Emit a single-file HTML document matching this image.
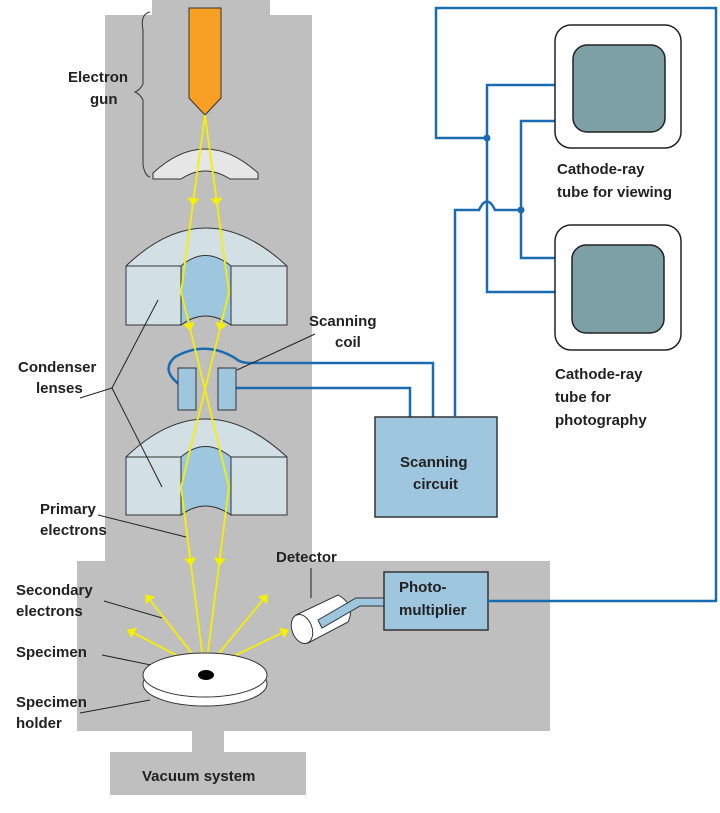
<!DOCTYPE html>
<html><head><style>
body{margin:0;background:#fff;width:720px;height:808px;overflow:hidden}
svg text{font-family:"Liberation Sans",sans-serif;font-size:15px;font-weight:bold;fill:#222}
</style></head><body>
<svg width="720" height="808" viewBox="0 0 720 808">
<defs>
<marker id="a" markerWidth="8" markerHeight="12" refX="7" refY="6" orient="auto" markerUnits="userSpaceOnUse"><path d="M0,0 L8,6 L0,12 z" fill="#f5f000"/></marker>
</defs>
<path d="M152,0 H270 V15 H312 V561 H550 V731 H224 V752 H306 V795 H110 V752 H192 V731 H77 V561 H105 V15 H152 Z" fill="#bfbfbf"/>
<text x="142" y="781">Vacuum system</text>
<path d="M189,8 H221 V98 L205,115 L189,98 Z" fill="#f7a023" stroke="#333" stroke-width="1"/>
<path d="M153,173 Q205,125 258,173 V179 H230 Q205,163 181,179 H153 Z" fill="#e6e6e6" stroke="#333"/>
<path d="M150,12 Q140,14 143,30 V84 Q140,90 135,92 Q140,94 143,100 V165 Q145,176 150,177" fill="none" stroke="#333"/>
<text x="68" y="82">Electron</text><text x="90" y="104">gun</text>
<path d="M126,266 Q205,190 287,266 V325 H231 Q205,307 181,325 H126 Z" fill="#d2e0e6" stroke="#333"/>
<path d="M181,266 V325 Q205,307 231,325 V266 Q205,245 181,266 Z" fill="#9ec6de" stroke="#333"/>
<line x1="126" y1="266" x2="181" y2="266" stroke="#333"/><line x1="231" y1="266" x2="287" y2="266" stroke="#333"/>
<path d="M126,457 Q205,381 287,457 V515 H231 Q205,497 181,515 H126 Z" fill="#d2e0e6" stroke="#333"/>
<path d="M181,457 V515 Q205,497 231,515 V457 Q205,436 181,457 Z" fill="#9ec6de" stroke="#333"/>
<line x1="126" y1="457" x2="181" y2="457" stroke="#333"/><line x1="231" y1="457" x2="287" y2="457" stroke="#333"/>
<path d="M180,385 Q160,370 175,357 Q205,340 235,358 Q240,363 250,363 H433 V417" fill="none" stroke="#1a6bb0" stroke-width="2.5"/>
<path d="M236,388 H410 V417" fill="none" stroke="#1a6bb0" stroke-width="2.5"/>
<rect x="178" y="368" width="18" height="42" fill="#9ec6de" stroke="#333"/>
<rect x="218" y="368" width="18" height="42" fill="#9ec6de" stroke="#333"/>
<text x="309" y="326">Scanning</text><text x="335" y="347">coil</text>
<line x1="315" y1="334" x2="237" y2="370" stroke="#222"/>
<g stroke="#f5f000" stroke-width="1.8" fill="none">
<polyline points="205,115 181,292 229,487 205,675"/>
<polyline points="205,115 229,292 181,487 205,675"/>
<line x1="194.7" y1="190" x2="192.8" y2="205" marker-end="url(#a)"/>
<line x1="215.3" y1="190" x2="217.2" y2="205" marker-end="url(#a)"/>
<line x1="187" y1="315" x2="190.4" y2="330" marker-end="url(#a)"/>
<line x1="223" y1="315" x2="219.6" y2="330" marker-end="url(#a)"/>
<line x1="220.7" y1="550" x2="219" y2="565" marker-end="url(#a)"/>
<line x1="189.3" y1="550" x2="191" y2="565" marker-end="url(#a)"/>
<line x1="205" y1="670" x2="128" y2="630" marker-end="url(#a)"/>
<line x1="205" y1="670" x2="146" y2="595" marker-end="url(#a)"/>
<line x1="205" y1="670" x2="267" y2="595" marker-end="url(#a)"/>
<line x1="205" y1="670" x2="288" y2="630" marker-end="url(#a)"/>
</g>
<text x="18" y="372">Condenser</text><text x="36" y="393">lenses</text>
<polyline points="162,487 112,388 80,398" fill="none" stroke="#222"/>
<line x1="112" y1="388" x2="158" y2="300" stroke="#222"/>
<text x="40" y="514">Primary</text><text x="40" y="535">electrons</text>
<line x1="98" y1="515" x2="186" y2="537" stroke="#222"/>
<text x="16" y="595">Secondary</text><text x="16" y="616">electrons</text>
<line x1="104" y1="601" x2="162" y2="618" stroke="#222"/>
<text x="16" y="657">Specimen</text>
<line x1="102" y1="655" x2="200" y2="675" stroke="#222"/>
<text x="16" y="707">Specimen</text><text x="16" y="728">holder</text>
<line x1="80" y1="713" x2="150" y2="700" stroke="#222"/>
<ellipse cx="205" cy="684" rx="62" ry="22" fill="#fff" stroke="#333"/>
<ellipse cx="205" cy="675" rx="62" ry="22" fill="#fff" stroke="#333"/>
<ellipse cx="206" cy="675" rx="8" ry="5" fill="#000"/>
<text x="276" y="562">Detector</text>
<line x1="311" y1="568" x2="311" y2="598" stroke="#222"/>
<path d="M296,615 L338,595 Q356,605 348,622 L308,643 Z" fill="#fff" stroke="#333"/>
<ellipse cx="302" cy="629" rx="10" ry="15" transform="rotate(-20 302 629)" fill="#fff" stroke="#333"/>
<path d="M318,620 L356,598 H384 V606 H360 L322,628 Z" fill="#9ec6de" stroke="#333"/>
<rect x="384" y="572" width="104" height="58" fill="#9ec6de" stroke="#333" stroke-width="1.5"/>
<text x="399" y="592">Photo-</text><text x="399" y="615">multiplier</text>
<rect x="375" y="417" width="122" height="100" fill="#9ec6de" stroke="#333" stroke-width="1.5"/>
<text x="400" y="467">Scanning</text><text x="413" y="489">circuit</text>
<g stroke="#1a6bb0" stroke-width="2.5" fill="none">
<path d="M488,601 H716 V8 H436 V138 H487"/>
<path d="M555,85 H487 V292 H555"/>
<path d="M555,121 H521 V258 H555"/>
<path d="M455,417 V210 H479 Q487,193 495,210 H521"/>
</g>
<circle cx="487" cy="138" r="3.5" fill="#1a6bb0"/><circle cx="521" cy="210" r="3.5" fill="#1a6bb0"/>
<rect x="555" y="25" width="126" height="123" rx="16" fill="#fff" stroke="#222" stroke-width="1.5"/>
<rect x="573" y="45" width="92" height="87" rx="14" fill="#7d9fa6" stroke="#222" stroke-width="1.5"/>
<rect x="555" y="225" width="126" height="125" rx="16" fill="#fff" stroke="#222" stroke-width="1.5"/>
<rect x="572" y="245" width="92" height="88" rx="14" fill="#7d9fa6" stroke="#222" stroke-width="1.5"/>
<text x="557" y="174">Cathode-ray</text><text x="557" y="197">tube for viewing</text>
<text x="555" y="379">Cathode-ray</text><text x="555" y="402">tube for</text><text x="555" y="425">photography</text>
</svg>
</body></html>
